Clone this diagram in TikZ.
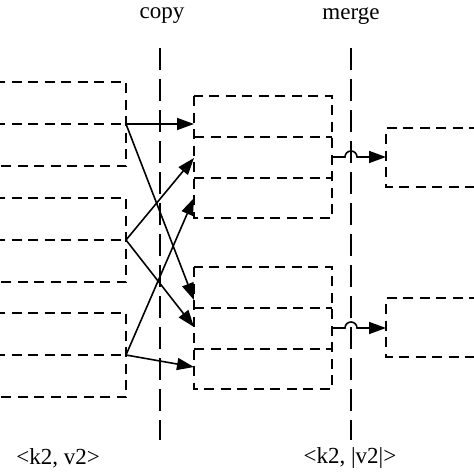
\documentclass[tikz,border=0pt]{standalone}
\usepackage{fontspec}
\setmainfont{Liberation Serif}
\usetikzlibrary{arrows.meta}
\begin{document}
\begin{tikzpicture}[x=1pt,y=-1pt,
  boxline/.style={line width=1.9pt,dash pattern=on 10pt off 6.5pt},
  sepline/.style={line width=2.6pt,dash pattern=on 22pt off 9pt},
  arr/.style={line width=1.6pt,-{Triangle[length=17pt,width=12pt]}},
  lbl/.style={font=\fontsize{23}{27}\selectfont,inner sep=0pt}]
\useasboundingbox (0,0) rectangle (474,474);
% labels
\node[lbl] (copy) at (162,16) {copy};
\node[lbl] (merge) at (351,16) {merge};
\node[lbl] (kv) at (58,458) {<k2, v2>};
\node[lbl] (kvm) at (350,458) {<k2, |v2|>};
% separator lines
\draw[sepline] (160,48) -- (160,440);
\draw[sepline] (351,48) -- (351,440);
% left boxes
\foreach \t in {82,198,313}{
  \draw[boxline] (-5,\t) -- (126,\t) -- (126,\t+84) -- (-5,\t+84);
  \draw[boxline] (-5,\t+42) -- (126,\t+42);
}
\coordinate (L1) at (126,124);
\coordinate (L2) at (126,240);
\coordinate (L3) at (126,355);
% middle boxes
\foreach \t in {96,267}{
  \draw[boxline] (194,\t) rectangle (332,\t+122);
  \draw[boxline] (194,\t+41) -- (332,\t+41);
  \draw[boxline] (194,\t+82) -- (332,\t+82);
}
\coordinate (A1) at (194,124);
\coordinate (A2) at (194,158);
\coordinate (A3) at (194,198);
\coordinate (B1) at (194,300);
\coordinate (B2) at (194,327);
\coordinate (B3) at (194,367);
% right boxes
\foreach \t in {128,298}{
  \draw[boxline] (479,\t) -- (386,\t) -- (386,\t+59) -- (479,\t+59);
}
\coordinate (MA) at (332,157);
\coordinate (MB) at (332,328);
\coordinate (RA) at (386,157);
\coordinate (RB) at (386,328);
% copy arrows
\draw[arr] (L1) -- (A1);
\draw[arr] (L1) -- (B1);
\draw[arr] (L2) -- (A2);
\draw[arr] (L2) -- (B2);
\draw[arr] (L3) -- (A3);
\draw[arr] (L3) -- (B3);
% merge arrows with hop
\draw[arr] (MA) -- (345,157) arc[start angle=180,end angle=360,radius=6] -- (RA);
\draw[arr] (MB) -- (345,328) arc[start angle=180,end angle=360,radius=6] -- (RB);
\end{tikzpicture}
\end{document}
